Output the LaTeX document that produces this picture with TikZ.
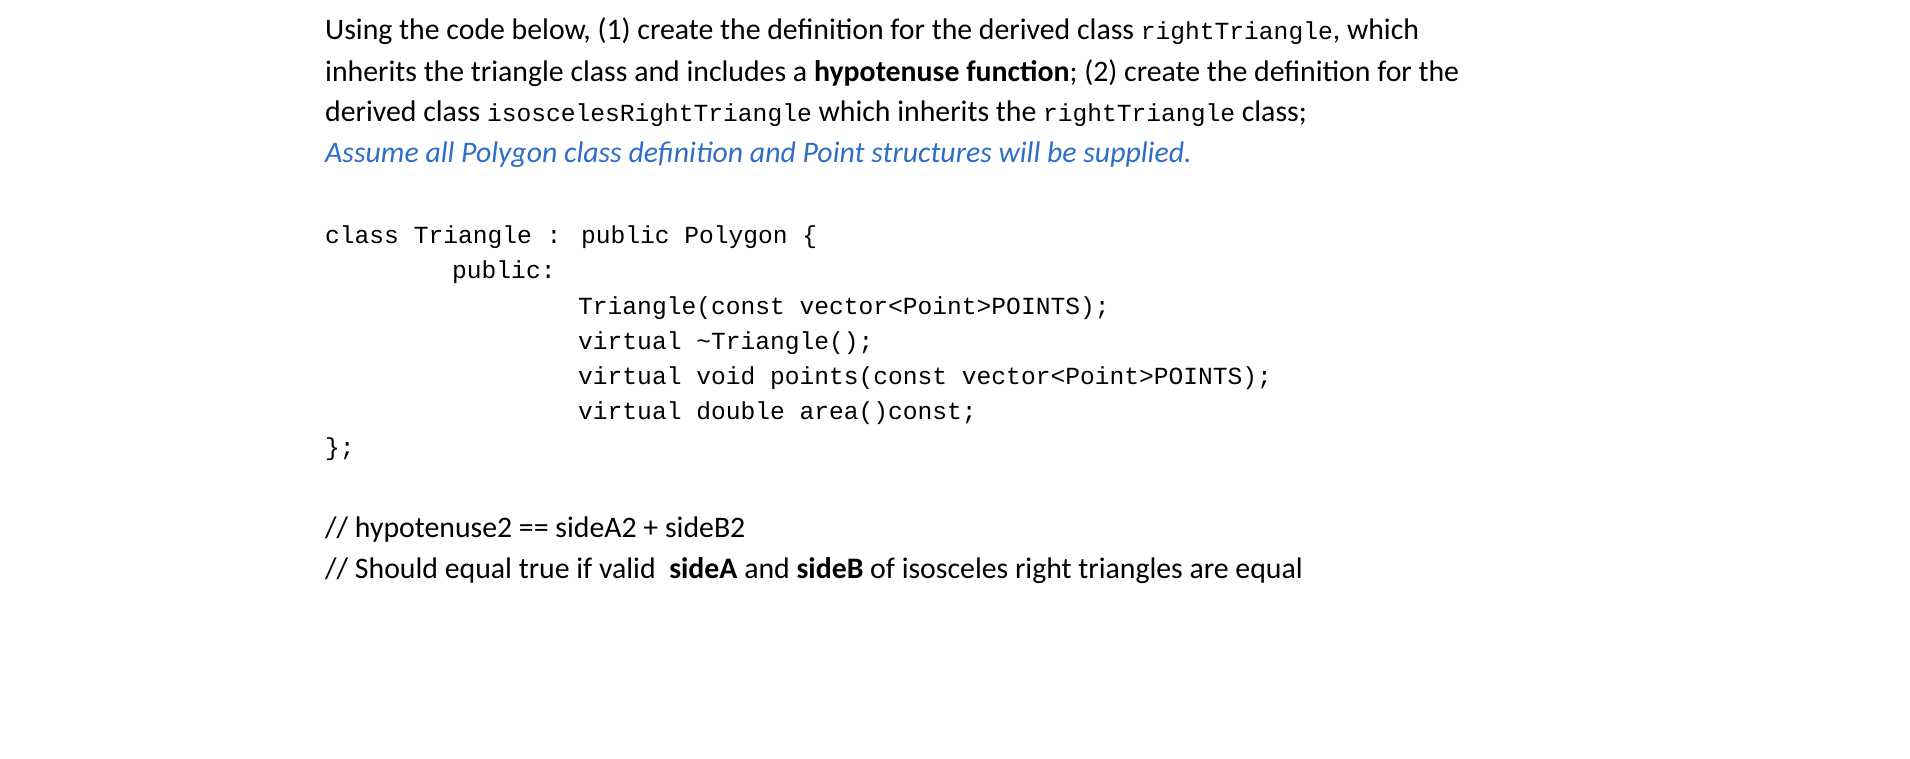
\documentclass[tikz,border=0pt]{standalone}
\usepackage{fontspec}
\setmainfont{Carlito}
\newfontfamily\codefont{Liberation Mono}
\definecolor{blu}{HTML}{2E6EC6}
\begin{document}
\begin{tikzpicture}[x=1pt,y=-1pt,
  txt/.style={anchor=base west,inner sep=0pt,font=\fontsize{29.8}{34}\selectfont},
  code/.style={anchor=base west,inner sep=0pt,font=\codefont\fontsize{24.6}{30}\selectfont}]
\useasboundingbox (0,0) rectangle (1910,758);
\newcommand{\cc}[1]{{\codefont\fontsize{24.6}{30}\selectfont #1}}
\node[txt] (l1) at (325,39) {Using the code below, (1) create the definition for the derived class \cc{rightTriangle}, which};
\node[txt] (l2) at (325,81) {inherits the triangle class and includes a \textbf{hypotenuse function}; (2) create the definition for the};
\node[txt] (l3) at (325,121) {derived class \cc{isoscelesRightTriangle} which inherits the \cc{rightTriangle} class;};
\node[txt,text=blu] (l4) at (325,162) {\itshape Assume all Polygon class definition and Point structures will be supplied.};
\node[code] (c1) at (325,243) {class Triangle : public Polygon \{};
\node[code] (c2) at (452,278) {public:};
\node[code] (c3) at (578,314) {Triangle(const vector<Point>POINTS);};
\node[code] (c4) at (578,349) {virtual \char`~Triangle();};
\node[code] (c5) at (578,384) {virtual void points(const vector<Point>POINTS);};
\node[code] (c6) at (578,419) {virtual double area()const;};
\node[code] (c7) at (325,455) {\};};
\node[txt] (m1) at (325,537) {// hypotenuse2 == sideA2 + sideB2};
\node[txt] (m2) at (325,578) {// Should equal true if valid\ \ \textbf{sideA} and \textbf{sideB} of isosceles right triangles are equal};
\end{tikzpicture}
\end{document}
